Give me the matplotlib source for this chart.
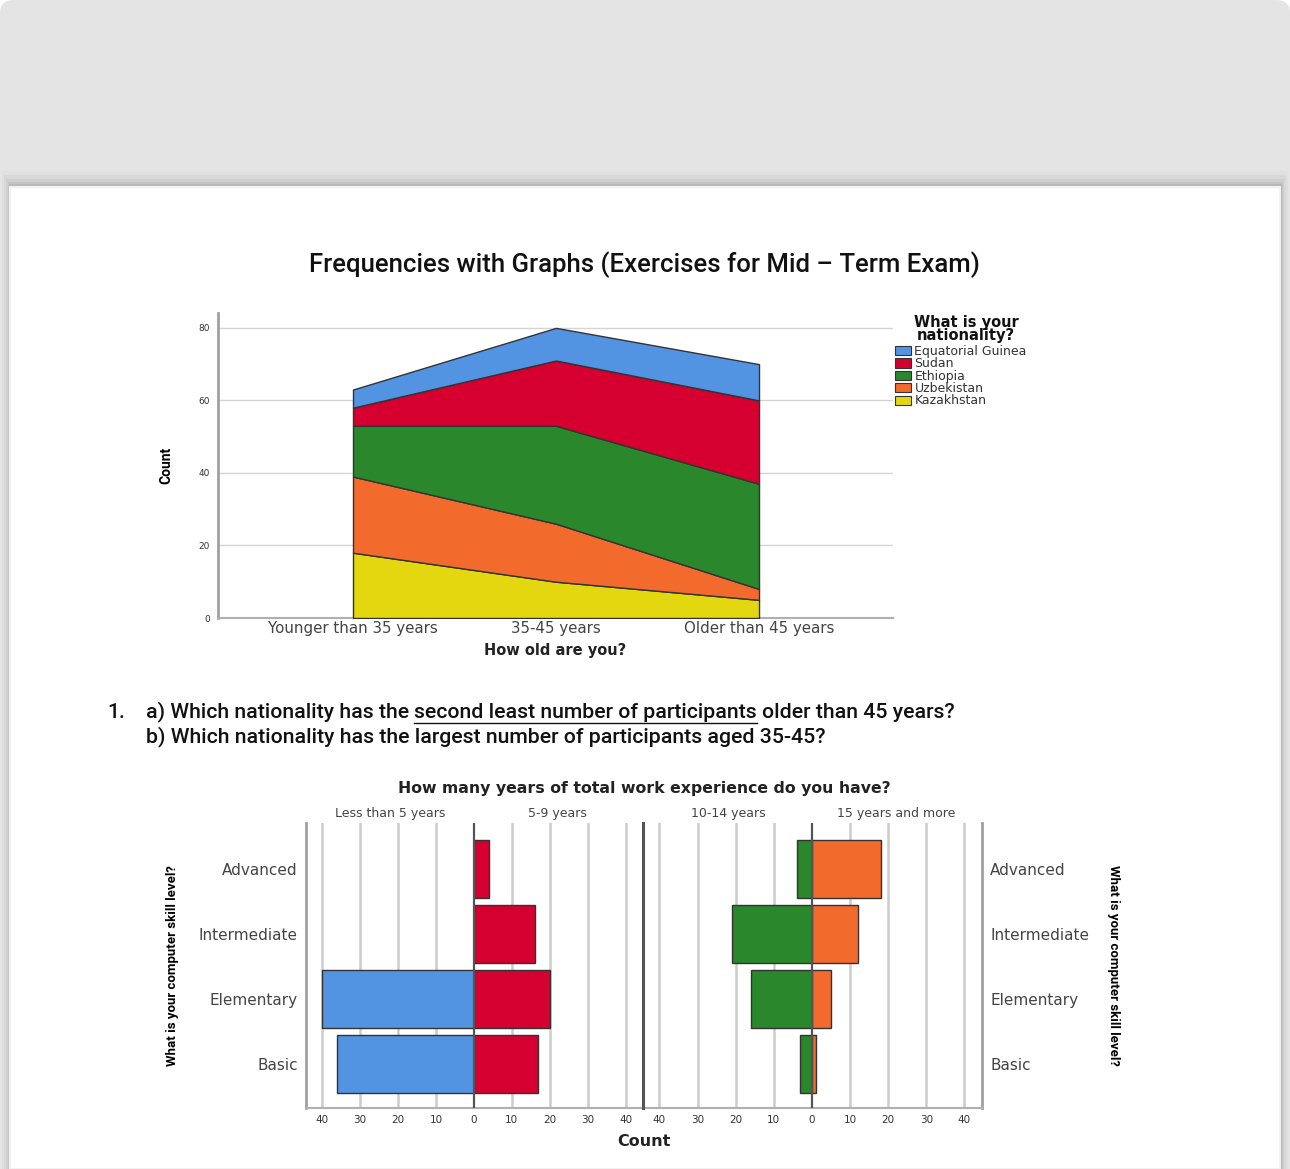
import numpy as np
import matplotlib
matplotlib.use('Agg')
import matplotlib.pyplot as plt
from matplotlib.patches import Rectangle, FancyBboxPatch, Patch
from matplotlib.ticker import FuncFormatter
import matplotlib.transforms as mtransforms

# ---- data: stacked area (counts by age group) ----
age_groups = ['Younger than 35 years', '35-45 years', 'Older than 45 years']
kazakhstan = [18, 10, 5]
uzbekistan = [21, 16, 3]
ethiopia = [14, 27, 29]
sudan = [5, 18, 23]
eq_guinea = [5, 9, 10]

# ---- data: pyramid (counts by skill level) ----
skill_levels = ['Basic', 'Elementary', 'Intermediate', 'Advanced']
less_5 = [36, 40, 0, 0]
years_5_9 = [17, 20, 16, 4]
years_10_14 = [3, 16, 21, 4]
years_15_more = [1, 5, 12, 18]
count_ticks = [-40, -30, -20, -10, 0, 10, 20, 30, 40]

c_blue = '#5394e2'
c_red = '#d5002f'
c_green = '#2a872c'
c_orange = '#f26a2c'
c_yellow = '#e3d80f'
edge = '#333333'

plt.rcParams['font.family'] = ['DejaVu Sans']

W, H = 1290, 1169
fig = plt.figure(figsize=(W / 100, H / 100), dpi=100)
fig.patch.set_facecolor('white')


def fx(px):
    return px / W


def fy(py):
    return 1 - py / H


# screenshot background: grey window with rounded top, white page with a soft shadow
fig.patches.append(FancyBboxPatch((0.0, -0.05), 1.0, 1.05,
                                  boxstyle='round,pad=0,rounding_size=0.011',
                                  transform=fig.transFigure, facecolor='#e4e4e4',
                                  edgecolor='none', zorder=-10))
for d, a in [(16, 0.02), (12, 0.03), (8, 0.04), (5, 0.05), (3, 0.06)]:
    fig.patches.append(Rectangle((fx(10 - d / 2), 0), fx(1270 + d), fy(187 - d),
                                 transform=fig.transFigure, facecolor='black',
                                 alpha=a, edgecolor='none', zorder=-9))
fig.patches.append(Rectangle((fx(10), 0), fx(1270), fy(187), transform=fig.transFigure,
                             facecolor='white', edgecolor='#f2f2f2', lw=1.5, zorder=-8))

doc_font = ['Roboto', 'DejaVu Sans']
narrow = ['Roboto', 'DejaVu Sans']

fig.text(fx(644), fy(265), 'Frequencies with Graphs (Exercises for Mid \u2013 Term Exam)',
         ha='center', va='center', fontsize=18.5, family=doc_font, fontweight='medium',
         color='#111111')

# ---------------- stacked area chart ----------------
ax1 = fig.add_axes([fx(218), fy(618), fx(893 - 218), (618 - 313) / H])
x = np.arange(len(age_groups))
ax1.stackplot(x, kazakhstan, uzbekistan, ethiopia, sudan, eq_guinea,
              colors=[c_yellow, c_orange, c_green, c_red, c_blue],
              edgecolor=edge, linewidth=1.0, zorder=3)
ax1.set_xlim(-0.665, 2.66)
ax1.set_ylim(0, 84.1)
ax1.set_yticks([0, 20, 40, 60, 80])
ax1.set_xticks(x)
ax1.set_xticklabels(age_groups, fontsize=10.8, color='#444444')
ax1.tick_params(axis='y', labelsize=6.5, length=0, pad=6, labelcolor='#333333')
ax1.tick_params(axis='x', length=0, pad=2.5)
ax1.grid(axis='y', color='#d4d4d4', lw=1.0, zorder=0)
for s in ['top', 'right']:
    ax1.spines[s].set_visible(False)
ax1.spines['left'].set_color('#a0a0a0')
ax1.spines['left'].set_linewidth(2)
ax1.spines['bottom'].set_color('#b0b0b0')
ax1.spines['bottom'].set_linewidth(1.5)
ax1.set_ylabel('Count', family=narrow, fontweight='bold', fontsize=10, labelpad=18)
ax1.set_xlabel('How old are you?', fontweight='bold', fontsize=10.5, labelpad=5,
               color='#222222')

# legend (title drawn separately to keep the SPSS spacing)
handles = [Patch(facecolor=c, edgecolor=edge, lw=0.8)
           for c in [c_blue, c_red, c_green, c_orange, c_yellow]]
names = ['Equatorial Guinea', 'Sudan', 'Ethiopia', 'Uzbekistan', 'Kazakhstan']
leg = fig.legend(handles, names, loc='upper left', bbox_to_anchor=(fx(895), fy(345)),
                 frameon=False, fontsize=9,
                 borderpad=0, labelspacing=-0.05, handlelength=1.25, handleheight=0.75,
                 handletextpad=0.3, borderaxespad=0)
for t in leg.get_texts():
    t.set_color('#333333')
fig.text(fx(966), fy(329), 'What is your\nnationality?', ha='center', va='center',
         fontsize=10.5, fontweight='bold', linespacing=0.8, color='#111111')

# ---------------- question text ----------------
qsize = 15.3
fig.text(fx(107), fy(712), '1.', ha='left', va='center', fontsize=qsize, family=doc_font,
         fontweight='medium', color='#111111')
t_a = fig.text(fx(146), fy(712), 'a) Which nationality has the', ha='left', va='center',
               fontsize=qsize, family=doc_font, fontweight='medium', color='#111111')
fig.canvas.draw()
r = fig.canvas.get_renderer()
bb = t_a.get_window_extent(r)
sp = fig.text(0, 0, 'a a', fontsize=qsize, family=doc_font, fontweight='medium')
sp2 = fig.text(0, 0, 'aa', fontsize=qsize, family=doc_font, fontweight='medium')
space_w = sp.get_window_extent(r).width - sp2.get_window_extent(r).width
sp.remove()
sp2.remove()
t_u = fig.text((bb.x1 + space_w) / W, fy(712), 'second least number of participants',
               ha='left', va='center', fontsize=qsize, family=doc_font,
               fontweight='medium', color='#111111')
bu = t_u.get_window_extent(r)
fig.lines.append(plt.Line2D([bu.x0 / W, bu.x1 / W], [fy(723), fy(723)],
                            transform=fig.transFigure, color='#111111', lw=1.0))
fig.text((bu.x1 + space_w) / W, fy(712), 'older than 45 years?', ha='left', va='center',
         fontsize=qsize, family=doc_font, fontweight='medium', color='#111111')
fig.text(fx(146), fy(737), 'b) Which nationality has the largest number of participants aged 35-45?',
         ha='left', va='center', fontsize=qsize, family=doc_font, fontweight='medium',
         color='#111111')

# ---------------- pyramid chart ----------------
y = np.arange(len(skill_levels))
bottom = fy(1108)
height = (1108 - 823) / H
axr = fig.add_axes([fx(643), bottom, fx(982 - 643), height])
axl = fig.add_axes([fx(306), bottom, fx(643 - 306), height])
axr.patch.set_visible(False)
axl.patch.set_visible(False)

axl.barh(y, -np.array(less_5), height=0.9, color=c_blue, edgecolor=edge, lw=1, zorder=3)
axl.barh(y, years_5_9, height=0.9, color=c_red, edgecolor=edge, lw=1, zorder=3)
axr.barh(y, -np.array(years_10_14), height=0.9, color=c_green, edgecolor=edge, lw=1, zorder=3)
axr.barh(y, years_15_more, height=0.9, color=c_orange, edgecolor=edge, lw=1, zorder=3)

absfmt = FuncFormatter(lambda v, p: '%d' % abs(v))
for ax in (axl, axr):
    ax.set_xlim(-44.3, 44.6)
    ax.set_ylim(-0.68, 3.71)
    ax.set_xticks(count_ticks)
    ax.xaxis.set_major_formatter(absfmt)
    ax.tick_params(axis='x', labelsize=7.5, length=0, pad=5, labelcolor='#333333')
    for v in count_ticks:
        if v == 0:
            ax.axvline(0, color='#555555', lw=1.6, zorder=4)
        else:
            ax.axvline(v, color='#cccccc', lw=1.8, zorder=1)
    ax.spines['top'].set_visible(False)
    ax.spines['bottom'].set_color('#b0b0b0')
    ax.spines['bottom'].set_linewidth(1.5)

axl.spines['left'].set_color('#a0a0a0')
axl.spines['left'].set_linewidth(2)
axl.spines['right'].set_color('#555555')
axl.spines['right'].set_linewidth(2.2)
axl.spines['right'].set_zorder(6)
axr.spines['left'].set_visible(False)
axr.spines['right'].set_color('#a0a0a0')
axr.spines['right'].set_linewidth(2)

axl.set_yticks(y)
axl.set_yticklabels(skill_levels, fontsize=11, color='#444444')
axl.tick_params(axis='y', length=0, pad=6)
axr.set_yticks(y)
axr.yaxis.tick_right()
axr.set_yticklabels(skill_levels, fontsize=11, color='#444444')
axr.tick_params(axis='y', length=0, pad=6)

axl.set_ylabel('What is your computer skill level?', family=narrow, fontweight='bold',
               fontsize=9.5, labelpad=14)
axr.yaxis.set_label_position('right')
axr.set_ylabel('What is your computer skill level?', family=narrow, fontweight='bold',
               fontsize=9.5, rotation=270, labelpad=22)

headers = [(axl, -22, 'Less than 5 years'), (axl, 22, '5-9 years'),
           (axr, -22, '10-14 years'), (axr, 22, '15 years and more')]
for ax, hx, label in headers:
    tr = mtransforms.blended_transform_factory(ax.transData, ax.transAxes)
    ax.text(hx, 1.035, label, transform=tr, ha='center', va='center', fontsize=9,
            color='#444444')

fig.text(fx(644), fy(789), 'How many years of total work experience do you have?',
         ha='center', va='center', fontsize=11.3, fontweight='bold', color='#222222')
fig.text(fx(644), fy(1141), 'Count', ha='center', va='center', fontsize=11.5,
         fontweight='bold', color='#222222')

fig.savefig('out.png', dpi=100)
